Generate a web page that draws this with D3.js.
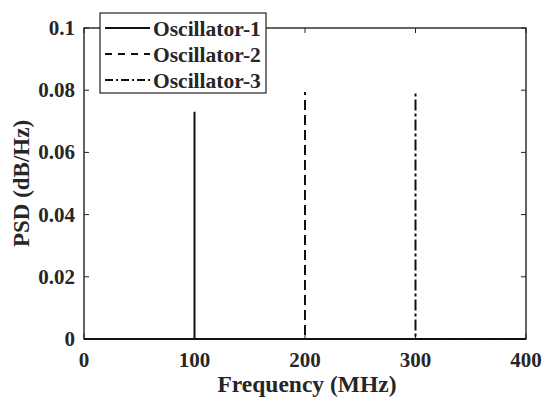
<!DOCTYPE html>
<html>
<head>
<meta charset="utf-8">
<script src="https://cdn.jsdelivr.net/npm/d3@7"></script>
<style>
  html, body { margin: 0; padding: 0; background: #fff; }
  svg { display: block; font-family: "Liberation Serif", "Times New Roman", serif; font-weight: bold; }
</style>
</head>
<body>
<svg id="chart" width="550" height="409"></svg>
<script>
// each spectrum is zero across the band except one narrow peak
const seriesNames = ['Oscillator-1', 'Oscillator-2', 'Oscillator-3'];
const bandMHz = [0, 400];
const peakFreq = [100, 200, 300];
const peakPsd = [0.0731, 0.0794, 0.0794];
const xTicks = [0, 100, 200, 300, 400];
const yTicks = [0, 0.02, 0.04, 0.06, 0.08, 0.1];
const yTickLabels = ['0', '0.02', '0.04', '0.06', '0.08', '0.1'];

const dashes = [null, '10 5', '11 3 3 3'];
const keyDashes = [null, '7 6', '8 3 2 3'];
const series = seriesNames.map((name, i) => ({
  name, dash: dashes[i], key: keyDashes[i],
  // baseline up to the peak, then the spike (no retrace, so dashes stay visible)
  spike: [[bandMHz[0], 0], [peakFreq[i], 0], [peakFreq[i], peakPsd[i]]],
  tail: [[peakFreq[i], 0], [bandMHz[1], 0]]
}));

const svg = d3.select('#chart');
const m = { l: 84, r: 24, t: 28, b: 70 };
const W = 550, H = 409, ink = '#262626';
const x = d3.scaleLinear().domain(bandMHz).range([m.l, W - m.r]);
const y = d3.scaleLinear().domain([0, 0.1]).range([H - m.b, m.t]);

// axes box
svg.append('rect').attr('x', x(0)).attr('y', y(0.1)).attr('width', x(400) - x(0)).attr('height', y(0) - y(0.1))
  .attr('fill', 'none').attr('stroke', '#222').attr('stroke-width', 1.4);

// inward ticks on all four sides
const tk = 5;
const gx = svg.append('g').attr('stroke', '#222').attr('stroke-width', 1);
xTicks.forEach(t => {
  gx.append('line').attr('x1', x(t)).attr('x2', x(t)).attr('y1', y(0)).attr('y2', y(0) - tk);
  gx.append('line').attr('x1', x(t)).attr('x2', x(t)).attr('y1', y(0.1)).attr('y2', y(0.1) + tk);
});
yTicks.forEach(t => {
  gx.append('line').attr('x1', x(0)).attr('x2', x(0) + tk).attr('y1', y(t)).attr('y2', y(t));
  gx.append('line').attr('x1', x(400)).attr('x2', x(400) - tk).attr('y1', y(t)).attr('y2', y(t));
});

svg.append('g').selectAll('text').data(xTicks).enter().append('text')
  .attr('x', d => x(d)).attr('y', y(0) + 28).attr('text-anchor', 'middle')
  .attr('font-size', 21).attr('fill', ink).text(d => d);
svg.append('g').selectAll('text').data(yTicks).enter().append('text')
  .attr('x', x(0) - 9).attr('y', d => y(d) + 7).attr('text-anchor', 'end')
  .attr('font-size', 21).attr('fill', ink).text((d, i) => yTickLabels[i]);

svg.append('text').attr('x', (x(0) + x(400)) / 2 + 2).attr('y', 392).attr('text-anchor', 'middle')
  .attr('font-size', 23.5).attr('fill', ink).text('Frequency (MHz)');
svg.append('text').attr('transform', `translate(29,${(y(0) + y(0.1)) / 2}) rotate(-90)`).attr('text-anchor', 'middle')
  .attr('font-size', 23).attr('fill', ink).text('PSD (dB/Hz)');

// spectra lines
const line = d3.line().x(d => x(d[0])).y(d => y(d[1]));
const gl = svg.append('g').attr('fill', 'none').attr('stroke', '#111').attr('stroke-width', 2);
series.forEach(s => {
  gl.append('path').attr('d', line(s.spike)).attr('stroke-dasharray', s.dash);
  gl.append('path').attr('d', line(s.tail)).attr('stroke-dasharray', s.dash);
});

// legend
const lg = svg.append('g').attr('transform', 'translate(100,13)');
lg.append('rect').attr('width', 166).attr('height', 80).attr('fill', '#fff').attr('stroke', '#222').attr('stroke-width', 1.2);
series.forEach((s, i) => {
  const yy = 15 + i * 26;
  lg.append('line').attr('x1', 5).attr('x2', 50).attr('y1', yy).attr('y2', yy)
    .attr('stroke', '#111').attr('stroke-width', 2).attr('stroke-dasharray', s.key);
  lg.append('text').attr('x', 53).attr('y', yy + 7.5).attr('font-size', 21.5).attr('fill', ink).text(s.name);
});
</script>
</body>
</html>
